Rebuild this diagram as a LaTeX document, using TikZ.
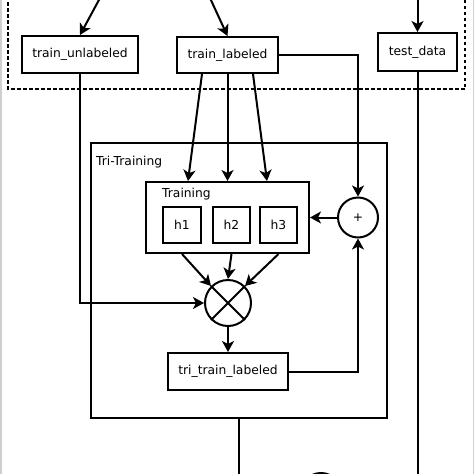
\documentclass[tikz,border=0pt]{standalone}
\usepackage{fontspec}
\setmainfont{DejaVu Sans}
\usepackage{tikz}
\usetikzlibrary{arrows.meta,calc,positioning}
\definecolor{Ink}{HTML}{000000}
\definecolor{Frame}{HTML}{CFCFCF}
\tikzset{blk/.style={draw=Ink,line width=2pt,fill=white,minimum height=36pt,inner sep=2pt,align=center},op/.style={circle,draw=Ink,line width=2pt,fill=white,inner sep=0pt,minimum size=40pt},flow/.style={-{Stealth[length=11pt,width=12pt,inset=3pt]},line width=2pt,draw=Ink},wire/.style={line width=2pt,draw=Ink}}

\begin{document}
\begin{tikzpicture}[x=1pt,y=-1pt,font=\fontsize{12.3}{15}\selectfont]
      \useasboundingbox (0,0) rectangle (474,474);
      \clip (0,0) rectangle (474,474);
      \draw[Frame,line width=1.5pt](0.75,0)--(0.75,474);\draw[Frame,line width=1.5pt](473.25,0)--(473.25,474);
      \draw[wire,dash pattern=on 3.5pt off 2.5pt](8,-10) rectangle (465,89);
      % inputs
      \node[blk,minimum width=116pt,minimum height=37pt](unl) at (80,54.5){train\_unlabeled};
      \node[blk,minimum width=101pt](lab) at (227.5,55){train\_labeled};
      \node[blk,minimum width=79pt,minimum height=38pt](test) at (417.5,52){test\_data};
      \coordinate(inU) at (100,-2);\coordinate(inL) at (210,-2);\coordinate(inT) at (417.5,-2);
      \draw[flow](inU)--(unl.north);\draw[flow](inL)--(lab.north);\draw[flow](inT)--(test.north);
      % tri-training block
      \node[draw=Ink,line width=2pt,minimum width=296pt,minimum height=275pt](tri) at (239,280.5){};
      \node[anchor=west,inner sep=0pt] at ($(tri.north west)+(6,20)$){Tri-Training};
      \node[blk,minimum width=163pt,minimum height=71pt](training) at (227.5,217.5){};
      \node[anchor=west,inner sep=0pt] at ($(training.north west)+(17,13)$){Training};
      \node[blk,minimum width=37pt](h2) at (231.5,225){h2};
      \node[blk,minimum width=38pt,left=10pt of h2](h1){h1};
      \node[blk,minimum width=37pt,right=8pt of h2](h3){h3};
      \node[op,right=27pt of training](plus){+};
      \node[op,minimum size=46pt](mix) at (228,303){};
      \draw[wire](mix.north west)--(mix.south east);\draw[wire](mix.north east)--(mix.south west);
      \node[blk,minimum width=120pt,minimum height=37pt,below=25pt of mix](ttl){tri\_train\_labeled};
      \draw[flow]($(lab.south)+(-25.5,0)$)--($(training.north)+(-39.5,0)$);
      \draw[flow](lab.south)--(training.north);
      \draw[flow]($(lab.south)+(25.5,0)$)--($(training.north)+(39.5,0)$);
      \draw[flow](lab.east)-|(plus.north);
      \draw[flow](plus.west)--(training.east);
      \draw[flow](ttl.east)-|(plus.south);
      \draw[flow](h1.south|-training.south)--(mix.north west);
      \draw[flow](h2.south|-training.south)--(mix.north);
      \draw[flow](h3.south|-training.south)--(mix.north east);
      \draw[flow](unl.south)|-(mix.west);
      \draw[flow](mix.south)--(ttl.north);
      % outputs
      \node[op](outop) at (321,493){};
      \coordinate(outA) at (239,480);\coordinate(outT) at (417.5,480);
      \draw[wire](tri.south)--(outA);\draw[wire](test.south)--(outT);
    \end{tikzpicture}
\end{document}
